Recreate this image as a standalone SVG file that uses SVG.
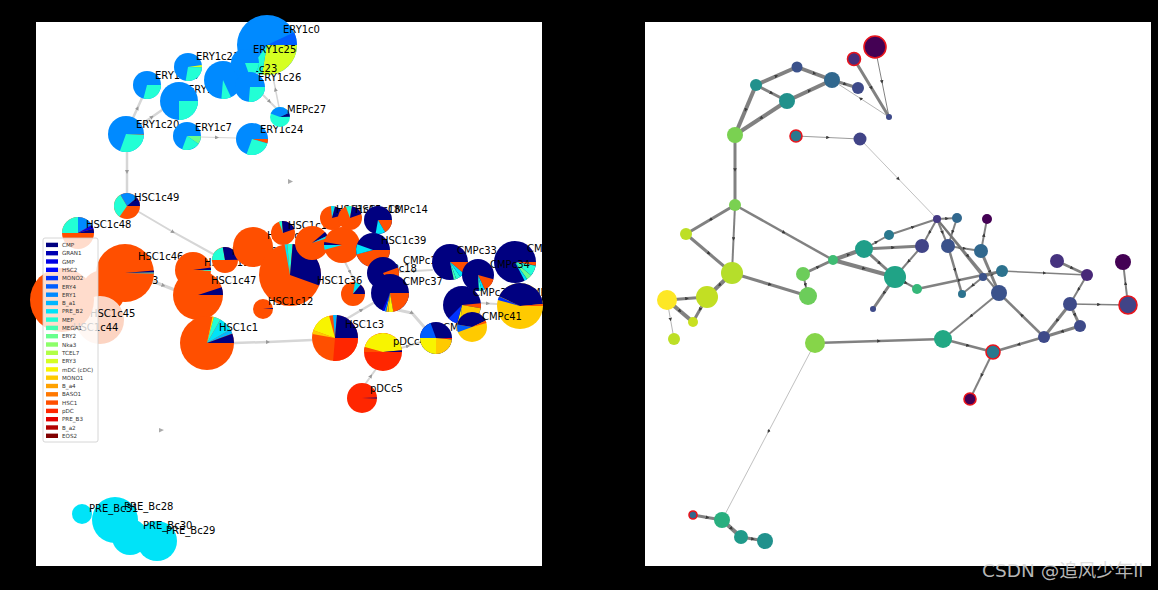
<svg xmlns="http://www.w3.org/2000/svg" width="1158" height="590" viewBox="0 0 1158 590">
<style>
.lb{font-family:"DejaVu Sans",sans-serif;font-size:10px;fill:#000}
.lg{font-family:"DejaVu Sans",sans-serif;font-size:5.6px;fill:#333}
.w{fill:none}
.e{stroke:#d6d6d6;fill:none;stroke-linecap:round;marker-mid:url(#al)}
.r{stroke:#737373;fill:none;stroke-opacity:.9;marker-mid:url(#ar)}
.ro{stroke:#e8141c;stroke-width:1.6}
</style>
<defs>
<marker id="ar" viewBox="0 0 6 6" refX="3" refY="3" markerWidth="3.6" markerHeight="3.6" markerUnits="userSpaceOnUse" orient="auto"><path d="M0,0 L6,3 L0,6 z" fill="#3a3a3a"/></marker>
<marker id="al" viewBox="0 0 6 6" refX="3" refY="3" markerWidth="4" markerHeight="4" markerUnits="userSpaceOnUse" orient="auto"><path d="M0,0 L6,3 L0,6 z" fill="#999"/></marker>
</defs>
<rect width="1158" height="590" fill="#000"/>
<rect x="36" y="22" width="506" height="544" fill="#fff"/>
<rect x="645" y="22" width="506" height="544" fill="#fff"/>

<g id="left-edges">
<path class="e" stroke-width="2.5" d="M127,152 L127,172 L127,193"/>
<path class="e" stroke-width="2.5" d="M133,118 L137.5,108 L142,98"/>
<path class="e" stroke-width="2.5" d="M142,124 L152,117 L162,110"/>
<path class="e" stroke-width="2" d="M263,95 L269.5,101.5 L276,108"/>
<path class="e" stroke-width="1.5" d="M279,107 L275.5,89.5 L272,72"/>
<path class="e" stroke-width="1" d="M201,137 L217,137.5 L236,138"/>
<path class="e" stroke-width="2" d="M139,212 L173,232 L213,254"/>
<path class="e" stroke-width="3" d="M152,281 L163.5,285.5 L175,290"/>
<path class="e" stroke-width="2.5" d="M234,343 L268,342 L312,340"/>
<path class="e" stroke-width="2.5" d="M348,318 L361.5,310 L375,302"/>
<path class="e" stroke-width="3" d="M398,310 L412,313 L425,328"/>
<path class="e" stroke-width="2" d="M401,348 L408,346 L421,342"/>
<path class="e" stroke-width="2" d="M366,383 L371,376 L376,369"/>
<path class="e" stroke-width="2" d="M399,272 L415,271 L432,270"/>
<path class="e" stroke-width="2" d="M480,303 L488,303.5 L497,304"/>
<path class="e" stroke-width="2" d="M345,262 L350,272 L355,282"/>
<path d="M288,179 L293,181.5 L288,184 z" fill="#aaa"/>
<path d="M159,428 L164,430 L159,432.5 z" fill="#aaa"/>
</g>

<g id="n-ERY1c20"><g transform="translate(126,134)"><circle r="18" fill="#008aff"/><circle class="w" r="9" stroke-width="18" stroke="#22ffd5" pathLength="360" stroke-dasharray="108 360" transform="rotate(2)"/><circle class="w" r="9" stroke-width="18" stroke="#ff4f00" pathLength="360" stroke-dasharray="2 360"/></g><text class="lb" x="136" y="128">ERY1c20</text></g>
<g id="n-ERY1c7"><g transform="translate(187,136)"><circle r="14" fill="#008aff"/><circle class="w" r="7" stroke-width="14" stroke="#69ff8d" pathLength="360" stroke-dasharray="35 360"/><circle class="w" r="7" stroke-width="14" stroke="#22ffd5" pathLength="360" stroke-dasharray="75 360" transform="rotate(35)"/></g><text class="lb" x="195" y="131">ERY1c7</text></g>
<g id="n-ERY1c24"><g transform="translate(252,139)"><circle r="16" fill="#008aff"/><circle class="w" r="8" stroke-width="16" stroke="#ff4f00" pathLength="360" stroke-dasharray="16 360"/><circle class="w" r="8" stroke-width="16" stroke="#22ffd5" pathLength="360" stroke-dasharray="94 360" transform="rotate(16)"/></g><text class="lb" x="260" y="133">ERY1c24</text></g>
<g id="n-MEPc27"><g transform="translate(280,117)"><circle r="10" fill="#22ffd5"/><circle class="w" r="5" stroke-width="10" stroke="#008aff" pathLength="360" stroke-dasharray="135 360" transform="rotate(200)"/><circle class="w" r="5" stroke-width="10" stroke="#000080" pathLength="360" stroke-dasharray="25 360" transform="rotate(335)"/></g><text class="lb" x="287" y="113">MEPc27</text></g>
<g id="n-ERY1c13"><g transform="translate(147,85)"><circle r="14" fill="#008aff"/><circle class="w" r="7" stroke-width="14" stroke="#22ffd5" pathLength="360" stroke-dasharray="105 360"/></g><text class="lb" x="155" y="79">ERY1c13</text></g>
<g id="n-ERY1c10"><text class="lb" x="188" y="93">ERY1c10</text><g transform="translate(179,101)"><circle r="19" fill="#008aff"/><circle class="w" r="9.5" stroke-width="19" stroke="#22ffd5" pathLength="360" stroke-dasharray="90 360"/></g></g>
<g id="n-ERY1c21"><g transform="translate(188,67)"><circle r="14" fill="#008aff"/><circle class="w" r="7" stroke-width="14" stroke="#d5ff22" pathLength="360" stroke-dasharray="10 360" transform="rotate(-8)"/><circle class="w" r="7" stroke-width="14" stroke="#22ffd5" pathLength="360" stroke-dasharray="98 360" transform="rotate(2)"/></g><text class="lb" x="196" y="60">ERY1c21</text></g>
<g id="n-ERY1c0"><g transform="translate(267,45)"><circle r="30" fill="#008aff"/><circle class="w" r="15" stroke-width="30" stroke="#005eff" pathLength="360" stroke-dasharray="25 360" transform="rotate(-25)"/><circle class="w" r="15" stroke-width="30" stroke="#d5ff22" pathLength="360" stroke-dasharray="100 360"/><circle class="w" r="15" stroke-width="30" stroke="#22ffd5" pathLength="360" stroke-dasharray="25 360" transform="rotate(100)"/></g><text class="lb" x="283" y="33">ERY1c0</text></g>
<g id="n-ERY1c23"><g transform="translate(223,80)"><circle r="19" fill="#008aff"/><circle class="w" r="9.5" stroke-width="19" stroke="#22ffd5" pathLength="360" stroke-dasharray="30 360" transform="rotate(65)"/></g><text class="lb" x="234" y="72">ERY1c23</text></g>
<g id="n-ERY1c25"><g transform="translate(245,63)"><circle r="14" fill="#008aff"/><circle class="w" r="7" stroke-width="14" stroke="#22ffd5" pathLength="360" stroke-dasharray="70 360"/></g><text class="lb" x="253" y="53">ERY1c25</text></g>
<g id="n-ERY1c26"><g transform="translate(250,87)"><circle r="15" fill="#008aff"/><circle class="w" r="7.5" stroke-width="15" stroke="#22ffd5" pathLength="360" stroke-dasharray="95 360"/></g><text class="lb" x="258" y="81">ERY1c26</text></g>

<g id="n-HSC1c49"><g transform="translate(127,206)"><circle r="13" fill="#ff4f00"/><circle class="w" r="6.5" stroke-width="13" stroke="#22ffd5" pathLength="360" stroke-dasharray="115 360" transform="rotate(125)"/><circle class="w" r="6.5" stroke-width="13" stroke="#008aff" pathLength="360" stroke-dasharray="80 360" transform="rotate(240)"/><circle class="w" r="6.5" stroke-width="13" stroke="#000080" pathLength="360" stroke-dasharray="40 360" transform="rotate(320)"/></g><text class="lb" x="134" y="201">HSC1c49</text></g>
<g id="n-HSC1c48"><g transform="translate(78,233)"><circle r="16" fill="#ff4f00"/><circle class="w" r="8" stroke-width="16" stroke="#22ffd5" pathLength="360" stroke-dasharray="90 360" transform="rotate(180)"/><circle class="w" r="8" stroke-width="16" stroke="#008aff" pathLength="360" stroke-dasharray="60 360" transform="rotate(270)"/><circle class="w" r="8" stroke-width="16" stroke="#0000e4" pathLength="360" stroke-dasharray="15 360" transform="rotate(330)"/><circle class="w" r="8" stroke-width="16" stroke="#000080" pathLength="360" stroke-dasharray="15 360" transform="rotate(345)"/></g><text class="lb" x="86" y="228">HSC1c48</text></g>
<g id="n-HSC1c43"><circle cx="103" cy="292" r="22" fill="#ff4f00"/><text class="lb" x="113" y="284">HSC1c43</text></g>
<g id="n-HSC1c45"><circle cx="100" cy="320" r="24" fill="#fcd4c2"/><text class="lb" x="90" y="317">HSC1c45</text></g>
<g id="n-HSC1c44"><circle cx="62" cy="300" r="32" fill="#ff4f00"/><text class="lb" x="73" y="331">HSC1c44</text></g>
<g id="n-HSC1c46"><g transform="translate(125,273)"><circle r="29" fill="#ff4f00"/><circle class="w" r="14.5" stroke-width="29" stroke="#000080" pathLength="360" stroke-dasharray="4 360" transform="rotate(-5)"/><circle class="w" r="14.5" stroke-width="29" stroke="#00e3f8" pathLength="360" stroke-dasharray="2 360" transform="rotate(-1)"/></g><text class="lb" x="138" y="260">HSC1c46</text></g>
<g id="n-HSC1c11"><g transform="translate(193,270)"><circle r="18" fill="#ff4f00"/><circle class="w" r="9" stroke-width="18" stroke="#000080" pathLength="360" stroke-dasharray="8 360" transform="rotate(-8)"/><circle class="w" r="9" stroke-width="18" stroke="#22ffd5" pathLength="360" stroke-dasharray="3 360"/></g><text class="lb" x="204" y="266">HSC1c11</text></g>
<g id="n-HSC1c50"><g transform="translate(225,260)"><circle r="13" fill="#ff4f00"/><circle class="w" r="6.5" stroke-width="13" stroke="#22ffd5" pathLength="360" stroke-dasharray="80 360" transform="rotate(180)"/><circle class="w" r="6.5" stroke-width="13" stroke="#000080" pathLength="360" stroke-dasharray="100 360" transform="rotate(260)"/></g><text class="lb" x="232" y="255">HSC1c50</text></g>
<g id="n-HSC1c47"><g transform="translate(198,295)"><circle r="25" fill="#ff4f00"/><circle class="w" r="12.5" stroke-width="25" stroke="#000080" pathLength="360" stroke-dasharray="18 360" transform="rotate(-18)"/></g><text class="lb" x="211" y="284">HSC1c47</text></g>
<g id="n-HSC1c1"><g transform="translate(207,343)"><circle r="27" fill="#ff4f00"/><circle class="w" r="13.5" stroke-width="27" stroke="#f8f400" pathLength="360" stroke-dasharray="3 360" transform="rotate(-78)"/><circle class="w" r="13.5" stroke-width="27" stroke="#22ffd5" pathLength="360" stroke-dasharray="15 360" transform="rotate(-75)"/><circle class="w" r="13.5" stroke-width="27" stroke="#00e3f8" pathLength="360" stroke-dasharray="30 360" transform="rotate(-60)"/><circle class="w" r="13.5" stroke-width="27" stroke="#00b7ff" pathLength="360" stroke-dasharray="10 360" transform="rotate(-30)"/><circle class="w" r="13.5" stroke-width="27" stroke="#000080" pathLength="360" stroke-dasharray="20 360" transform="rotate(-20)"/></g><text class="lb" x="219" y="331">HSC1c1</text></g>
<g id="n-HSC1c17"><circle cx="253" cy="247" r="20" fill="#ff4f00"/><text class="lb" x="267" y="239">HSC1c17</text></g>
<g id="n-HSC1c19"><g transform="translate(283,233)"><circle r="12" fill="#ff4f00"/><circle class="w" r="6" stroke-width="12" stroke="#22ffd5" pathLength="360" stroke-dasharray="15 360" transform="rotate(-110)"/><circle class="w" r="6" stroke-width="12" stroke="#000080" pathLength="360" stroke-dasharray="75 360" transform="rotate(-95)"/></g><text class="lb" x="288" y="229">HSC1c19</text></g>
<g id="n-HSC1c8"><g transform="translate(290,275)"><circle r="31" fill="#ff4f00"/><circle class="w" r="15.5" stroke-width="31" stroke="#00e3f8" pathLength="360" stroke-dasharray="5 360" transform="rotate(-100)"/><circle class="w" r="15.5" stroke-width="31" stroke="#22ffd5" pathLength="360" stroke-dasharray="10 360" transform="rotate(-95)"/><circle class="w" r="15.5" stroke-width="31" stroke="#000080" pathLength="360" stroke-dasharray="105 360" transform="rotate(-85)"/></g></g>
<g id="n-HSC1c12"><g transform="translate(263,309)"><circle r="10" fill="#ff4f00"/><circle class="w" r="5" stroke-width="10" stroke="#000080" pathLength="360" stroke-dasharray="6 360" transform="rotate(-6)"/></g><text class="lb" x="268" y="305">HSC1c12</text></g>
<g id="n-HSC1c20"><g transform="translate(312,243)"><circle r="17" fill="#ff4f00"/><circle class="w" r="8.5" stroke-width="17" stroke="#000080" pathLength="360" stroke-dasharray="15 360" transform="rotate(-40)"/><circle class="w" r="8.5" stroke-width="17" stroke="#00e3f8" pathLength="360" stroke-dasharray="7 360" transform="rotate(-25)"/></g></g>
<g id="n-HSC1c22"><g transform="translate(342,245)"><circle r="18" fill="#ff4f00"/><circle class="w" r="9" stroke-width="18" stroke="#00e3f8" pathLength="360" stroke-dasharray="15 360" transform="rotate(165)"/><circle class="w" r="9" stroke-width="18" stroke="#000080" pathLength="360" stroke-dasharray="10 360" transform="rotate(180)"/></g></g>
<g id="n-HSC1c15"><g transform="translate(332,218)"><circle r="12" fill="#ff4f00"/><circle class="w" r="6" stroke-width="12" stroke="#00e3f8" pathLength="360" stroke-dasharray="20 360" transform="rotate(-95)"/><circle class="w" r="6" stroke-width="12" stroke="#000080" pathLength="360" stroke-dasharray="60 360" transform="rotate(-75)"/></g><text class="lb" x="336" y="213">HSC1c15</text></g>
<g id="n-HSC1c18"><g transform="translate(350,218)"><circle r="12" fill="#ff4f00"/><circle class="w" r="6" stroke-width="12" stroke="#22ffd5" pathLength="360" stroke-dasharray="30 360" transform="rotate(-110)"/><circle class="w" r="6" stroke-width="12" stroke="#000080" pathLength="360" stroke-dasharray="60 360" transform="rotate(-80)"/></g><text class="lb" x="355" y="213">HSC1c18</text></g>
<g id="n-CMPc14"><g transform="translate(378,220)"><circle r="14" fill="#000080"/><circle class="w" r="7" stroke-width="14" stroke="#ff4f00" pathLength="360" stroke-dasharray="60 360"/><circle class="w" r="7" stroke-width="14" stroke="#00e3f8" pathLength="360" stroke-dasharray="40 360" transform="rotate(60)"/></g><text class="lb" x="388" y="213">CMPc14</text></g>
<g id="n-HSC1c39"><g transform="translate(373,250)"><circle r="17" fill="#000080"/><circle class="w" r="8.5" stroke-width="17" stroke="#ff4f00" pathLength="360" stroke-dasharray="165 360"/><circle class="w" r="8.5" stroke-width="17" stroke="#00e3f8" pathLength="360" stroke-dasharray="35 360" transform="rotate(165)"/></g><text class="lb" x="381" y="244">HSC1c39</text></g>
<g id="n-CMPc18"><text class="lb" x="403" y="264">CMPc15</text><text class="lb" x="377" y="272">CMPc18</text><g transform="translate(383,273)"><circle r="16" fill="#000080"/><circle class="w" r="8" stroke-width="16" stroke="#ff4f00" pathLength="360" stroke-dasharray="80 360" transform="rotate(-20)"/></g></g>
<g id="n-HSC1c36"><g transform="translate(353,294)"><circle r="12" fill="#ff4f00"/><circle class="w" r="6" stroke-width="12" stroke="#00e3f8" pathLength="360" stroke-dasharray="30 360" transform="rotate(-80)"/><circle class="w" r="6" stroke-width="12" stroke="#000080" pathLength="360" stroke-dasharray="50 360" transform="rotate(-50)"/></g><text class="lb" x="317" y="284">HSC1c36</text></g>
<g id="n-CMPc37"><g transform="translate(390,293)"><circle r="19" fill="#000080"/><circle class="w" r="9.5" stroke-width="19" stroke="#ff4f00" pathLength="360" stroke-dasharray="80 360"/><circle class="w" r="9.5" stroke-width="19" stroke="#f8f400" pathLength="360" stroke-dasharray="15 360" transform="rotate(80)"/><circle class="w" r="9.5" stroke-width="19" stroke="#ffca00" pathLength="360" stroke-dasharray="7 360" transform="rotate(95)"/><circle class="w" r="9.5" stroke-width="19" stroke="#008aff" pathLength="360" stroke-dasharray="6 360" transform="rotate(102)"/><circle class="w" r="9.5" stroke-width="19" stroke="#0000e4" pathLength="360" stroke-dasharray="7 360" transform="rotate(108)"/></g><text class="lb" x="403" y="285">CMPc37</text></g>
<g id="n-HSC1c3"><g transform="translate(335,338)"><circle r="23" fill="#ff4f00"/><circle class="w" r="11.5" stroke-width="23" stroke="#00b7ff" pathLength="360" stroke-dasharray="10 360" transform="rotate(-95)"/><circle class="w" r="11.5" stroke-width="23" stroke="#000080" pathLength="360" stroke-dasharray="85 360" transform="rotate(-85)"/><circle class="w" r="11.5" stroke-width="23" stroke="#ff2600" pathLength="360" stroke-dasharray="95 360"/><circle class="w" r="11.5" stroke-width="23" stroke="#ffca00" pathLength="360" stroke-dasharray="10 360" transform="rotate(190)"/><circle class="w" r="11.5" stroke-width="23" stroke="#f8f400" pathLength="360" stroke-dasharray="55 360" transform="rotate(200)"/></g><text class="lb" x="345" y="328">HSC1c3</text></g>
<g id="n-pDCc4"><g transform="translate(383,352)"><circle r="19" fill="#ff2600"/><circle class="w" r="9.5" stroke-width="19" stroke="#ff4f00" pathLength="360" stroke-dasharray="15 360" transform="rotate(180)"/><circle class="w" r="9.5" stroke-width="19" stroke="#f8f400" pathLength="360" stroke-dasharray="160 360" transform="rotate(195)"/><circle class="w" r="9.5" stroke-width="19" stroke="#000080" pathLength="360" stroke-dasharray="5 360" transform="rotate(355)"/></g><text class="lb" x="393" y="345">pDCc4</text></g>
<g id="n-pDCc5"><g transform="translate(362,398)"><circle r="15" fill="#ff2600"/><circle class="w" r="7.5" stroke-width="15" stroke="#000080" pathLength="360" stroke-dasharray="4 360" transform="rotate(-2)"/></g><text class="lb" x="370" y="392">pDCc5</text></g>
<g id="n-CMPc38"><text class="lb" x="443" y="331">CMPc38</text><g transform="translate(436,338)"><circle r="16" fill="#000080"/><circle class="w" r="8" stroke-width="16" stroke="#ff2600" pathLength="360" stroke-dasharray="5 360"/><circle class="w" r="8" stroke-width="16" stroke="#ffca00" pathLength="360" stroke-dasharray="85 360" transform="rotate(5)"/><circle class="w" r="8" stroke-width="16" stroke="#f8f400" pathLength="360" stroke-dasharray="90 360" transform="rotate(90)"/><circle class="w" r="8" stroke-width="16" stroke="#005eff" pathLength="360" stroke-dasharray="70 360" transform="rotate(180)"/></g></g>
<g id="n-CMPc33"><g transform="translate(450,262)"><circle r="18" fill="#000080"/><circle class="w" r="9" stroke-width="18" stroke="#ff4f00" pathLength="360" stroke-dasharray="40 360"/><circle class="w" r="9" stroke-width="18" stroke="#00e3f8" pathLength="360" stroke-dasharray="15 360" transform="rotate(40)"/><circle class="w" r="9" stroke-width="18" stroke="#22ffd5" pathLength="360" stroke-dasharray="15 360" transform="rotate(55)"/><circle class="w" r="9" stroke-width="18" stroke="#46ffb1" pathLength="360" stroke-dasharray="8 360" transform="rotate(70)"/></g><text class="lb" x="457" y="254">CMPc33</text></g>
<g id="n-CMPc35"><g transform="translate(515,262)"><circle r="21" fill="#000080"/><circle class="w" r="10.5" stroke-width="21" stroke="#ff4f00" pathLength="360" stroke-dasharray="10 360"/><circle class="w" r="10.5" stroke-width="21" stroke="#22ffd5" pathLength="360" stroke-dasharray="30 360" transform="rotate(10)"/><circle class="w" r="10.5" stroke-width="21" stroke="#69ff8d" pathLength="360" stroke-dasharray="15 360" transform="rotate(40)"/><circle class="w" r="10.5" stroke-width="21" stroke="#00e3f8" pathLength="360" stroke-dasharray="8 360" transform="rotate(55)"/></g><text class="lb" x="527" y="252">CMPc35</text></g>
<g id="n-CMPc34"><g transform="translate(478,275)"><circle r="16" fill="#000080"/><circle class="w" r="8" stroke-width="16" stroke="#ff4f00" pathLength="360" stroke-dasharray="50 360" transform="rotate(15)"/><circle class="w" r="8" stroke-width="16" stroke="#00e3f8" pathLength="360" stroke-dasharray="12 360" transform="rotate(65)"/><circle class="w" r="8" stroke-width="16" stroke="#22ffd5" pathLength="360" stroke-dasharray="10 360" transform="rotate(77)"/></g><text class="lb" x="490" y="268">CMPc34</text></g>
<g id="n-CMPc36"><g transform="translate(462,305)"><circle r="19" fill="#000080"/><circle class="w" r="9.5" stroke-width="19" stroke="#ff4f00" pathLength="360" stroke-dasharray="15 360" transform="rotate(-5)"/><circle class="w" r="9.5" stroke-width="19" stroke="#ffca00" pathLength="360" stroke-dasharray="85 360" transform="rotate(10)"/><circle class="w" r="9.5" stroke-width="19" stroke="#f8f400" pathLength="360" stroke-dasharray="10 360" transform="rotate(95)"/><circle class="w" r="9.5" stroke-width="19" stroke="#0032ff" pathLength="360" stroke-dasharray="30 360" transform="rotate(105)"/></g><text class="lb" x="473" y="296">CMPc36</text></g>
<g id="n-CMPc40"><text class="lb" x="525" y="296">CMPc40</text><g transform="translate(520,306)"><circle r="23" fill="#ffca00"/><circle class="w" r="11.5" stroke-width="23" stroke="#0032ff" pathLength="360" stroke-dasharray="10 360" transform="rotate(195)"/><circle class="w" r="11.5" stroke-width="23" stroke="#000080" pathLength="360" stroke-dasharray="150 360" transform="rotate(205)"/><circle class="w" r="11.5" stroke-width="23" stroke="#ff4f00" pathLength="360" stroke-dasharray="5 360" transform="rotate(355)"/></g></g>
<g id="n-CMPc41"><g transform="translate(472,327)"><circle r="15" fill="#ffca00"/><circle class="w" r="7.5" stroke-width="15" stroke="#005eff" pathLength="360" stroke-dasharray="30 360" transform="rotate(160)"/><circle class="w" r="7.5" stroke-width="15" stroke="#000080" pathLength="360" stroke-dasharray="145 360" transform="rotate(190)"/><circle class="w" r="7.5" stroke-width="15" stroke="#ff4f00" pathLength="360" stroke-dasharray="10 360" transform="rotate(335)"/></g><text class="lb" x="482" y="320">CMPc41</text></g>

<g id="n-PRE_Bc29"><circle cx="157" cy="541" r="20" fill="#00e3f8"/><text class="lb" x="166" y="534">PRE_Bc29</text></g>
<g id="n-PRE_Bc30"><circle cx="130" cy="537" r="18" fill="#00e3f8"/><text class="lb" x="143" y="529">PRE_Bc30</text></g>
<g id="n-PRE_Bc28"><circle cx="115" cy="520" r="23" fill="#00e3f8"/><text class="lb" x="124" y="510">PRE_Bc28</text></g>
<g id="n-PRE_Bc31"><circle cx="82" cy="514" r="10" fill="#00e3f8"/><text class="lb" x="89" y="512">PRE_Bc31</text></g>

<g id="legend">
<rect x="43" y="238" width="55" height="204" rx="2" fill="#fff" fill-opacity="0.8" stroke="#cccccc" stroke-width="0.8"/>
<rect x="46" y="242.7" width="12" height="4.4" fill="#000080"/><text class="lg" x="62" y="247">CMP</text>
<rect x="46" y="251" width="12" height="4.4" fill="#0000b2"/><text class="lg" x="62" y="255.3">GRAN1</text>
<rect x="46" y="259.3" width="12" height="4.4" fill="#0000e4"/><text class="lg" x="62" y="263.6">GMP</text>
<rect x="46" y="267.6" width="12" height="4.4" fill="#0005ff"/><text class="lg" x="62" y="271.9">HSC2</text>
<rect x="46" y="275.9" width="12" height="4.4" fill="#0032ff"/><text class="lg" x="62" y="280.2">MONO2</text>
<rect x="46" y="284.2" width="12" height="4.4" fill="#005eff"/><text class="lg" x="62" y="288.5">ERY4</text>
<rect x="46" y="292.5" width="12" height="4.4" fill="#008aff"/><text class="lg" x="62" y="296.8">ERY1</text>
<rect x="46" y="300.8" width="12" height="4.4" fill="#00b7ff"/><text class="lg" x="62" y="305.1">B_a1</text>
<rect x="46" y="309.1" width="12" height="4.4" fill="#00e3f8"/><text class="lg" x="62" y="313.4">PRE_B2</text>
<rect x="46" y="317.4" width="12" height="4.4" fill="#22ffd5"/><text class="lg" x="62" y="321.7">MEP</text>
<rect x="46" y="325.7" width="12" height="4.4" fill="#46ffb1"/><text class="lg" x="62" y="330">MEGA1</text>
<rect x="46" y="334" width="12" height="4.4" fill="#69ff8d"/><text class="lg" x="62" y="338.3">ERY2</text>
<rect x="46" y="342.3" width="12" height="4.4" fill="#8dff69"/><text class="lg" x="62" y="346.6">Nka3</text>
<rect x="46" y="350.6" width="12" height="4.4" fill="#b1ff46"/><text class="lg" x="62" y="354.9">TCEL7</text>
<rect x="46" y="358.9" width="12" height="4.4" fill="#d5ff22"/><text class="lg" x="62" y="363.2">ERY3</text>
<rect x="46" y="367.2" width="12" height="4.4" fill="#f8f400"/><text class="lg" x="62" y="371.5">mDC (cDC)</text>
<rect x="46" y="375.5" width="12" height="4.4" fill="#ffca00"/><text class="lg" x="62" y="379.8">MONO1</text>
<rect x="46" y="383.8" width="12" height="4.4" fill="#ffa100"/><text class="lg" x="62" y="388.1">B_a4</text>
<rect x="46" y="392.1" width="12" height="4.4" fill="#ff7800"/><text class="lg" x="62" y="396.4">BASO1</text>
<rect x="46" y="400.4" width="12" height="4.4" fill="#ff4f00"/><text class="lg" x="62" y="404.7">HSC1</text>
<rect x="46" y="408.7" width="12" height="4.4" fill="#ff2600"/><text class="lg" x="62" y="413">pDC</text>
<rect x="46" y="417" width="12" height="4.4" fill="#e40000"/><text class="lg" x="62" y="421.3">PRE_B3</text>
<rect x="46" y="425.3" width="12" height="4.4" fill="#b20000"/><text class="lg" x="62" y="429.6">B_a2</text>
<rect x="46" y="433.6" width="12" height="4.4" fill="#800000"/><text class="lg" x="62" y="437.9">EOS2</text>
</g>

<g id="right-edges">
<path class="r" stroke-width="4" d="M756,85 L776.5,76 L797,67"/>
<path class="r" stroke-width="4" d="M797,67 L814.5,73.5 L832,80"/>
<path class="r" stroke-width="3" d="M832,80 L845,84 L858,88"/>
<path class="r" stroke-width="3" d="M756,85 L771.5,93 L787,101"/>
<path class="r" stroke-width="4" d="M787,101 L809.5,90.5 L832,80"/>
<path class="r" stroke-width="4" d="M756,85 L745.5,110 L735,135"/>
<path class="r" stroke-width="4" d="M787,101 L761,118 L735,135"/>
<path class="r" stroke-width="3" d="M735,135 L735,170 L735,205"/>
<path class="r" stroke-width="3" d="M854,59 L871.5,88 L889,117"/>
<path class="r" stroke-width="1" d="M875,47 L882,82 L889,117"/>
<path class="r" stroke-width="0.6" d="M889,117 L860.5,98.5 L832,80"/>
<path class="r" stroke-width="0.8" d="M796,136 L828,137.5 L860,139"/>
<path class="r" stroke-width="0.5" d="M860,139 L898.5,179 L937,219"/>
<path class="r" stroke-width="3" d="M735,205 L710.5,219.5 L686,234"/>
<path class="r" stroke-width="2" d="M735,205 L733.5,239 L732,273"/>
<path class="r" stroke-width="2.5" d="M735,205 L784,232.5 L833,260"/>
<path class="r" stroke-width="3" d="M686,234 L709,253.5 L732,273"/>
<path class="r" stroke-width="4" d="M732,273 L719.5,285 L707,297"/>
<path class="r" stroke-width="3" d="M732,273 L770,284.5 L808,296"/>
<path class="r" stroke-width="3" d="M667,300 L687,298.5 L707,297"/>
<path class="r" stroke-width="4" d="M667,300 L680,311 L693,322"/>
<path class="r" stroke-width="3" d="M707,297 L700,309.5 L693,322"/>
<path class="r" stroke-width="0.6" d="M667,300 L670.5,319.5 L674,339"/>
<path class="r" stroke-width="3" d="M803,274 L818,267 L833,260"/>
<path class="r" stroke-width="2" d="M803,274 L805.5,285 L808,296"/>
<path class="r" stroke-width="4" d="M833,260 L848.5,254.5 L864,249"/>
<path class="r" stroke-width="4" d="M833,260 L864,268.5 L895,277"/>
<path class="r" stroke-width="3" d="M864,249 L879.5,263 L895,277"/>
<path class="r" stroke-width="2" d="M864,249 L876.5,242 L889,235"/>
<path class="r" stroke-width="3" d="M864,249 L893,247.5 L922,246"/>
<path class="r" stroke-width="3" stroke="#333" d="M895,277 L884,293 L873,309"/>
<path class="r" stroke-width="2" d="M889,235 L913,227 L937,219"/>
<path class="r" stroke-width="2" d="M937,219 L947,218.5 L957,218"/>
<path class="r" stroke-width="2" d="M937,219 L929.5,232.5 L922,246"/>
<path class="r" stroke-width="2" d="M937,219 L942.5,232.5 L948,246"/>
<path class="r" stroke-width="2" d="M957,218 L952.5,232 L948,246"/>
<path class="r" stroke-width="2" d="M937,219 L960,248 L983,277"/>
<path class="r" stroke-width="2" d="M937,219 L968,256 L999,293"/>
<path class="r" stroke-width="2" d="M922,246 L908.5,261.5 L895,277"/>
<path class="r" stroke-width="2" d="M948,246 L964.5,248.5 L981,251"/>
<path class="r" stroke-width="2" d="M981,251 L984,235 L987,219"/>
<path class="r" stroke-width="3" d="M981,251 L990,272 L999,293"/>
<path class="r" stroke-width="2.5" d="M948,246 L955,270 L962,294"/>
<path class="r" stroke-width="2" d="M983,277 L992.5,274 L1002,271"/>
<path class="r" stroke-width="2" d="M983,277 L972.5,285.5 L962,294"/>
<path class="r" stroke-width="2.5" d="M917,289 L959.5,280 L1002,271"/>
<path class="r" stroke-width="2" d="M895,277 L906,283 L917,289"/>
<path class="r" stroke-width="1.5" d="M1002,271 L1044.5,273 L1087,275"/>
<path class="r" stroke-width="2.5" d="M1057,261 L1072,268 L1087,275"/>
<path class="r" stroke-width="2" d="M1087,275 L1078.5,289.5 L1070,304"/>
<path class="r" stroke-width="1.5" d="M1070,304 L1099,304.5 L1128,305"/>
<path class="r" stroke-width="2" d="M1128,305 L1125.5,283.5 L1123,262"/>
<path class="r" stroke-width="3" d="M1070,304 L1075,315 L1080,326"/>
<path class="r" stroke-width="3" d="M1070,304 L1057,320.5 L1044,337"/>
<path class="r" stroke-width="3" d="M1080,326 L1062,331.5 L1044,337"/>
<path class="r" stroke-width="2.5" d="M1044,337 L1018.5,344.5 L993,352"/>
<path class="r" stroke-width="2.5" d="M1044,337 L1021.5,315 L999,293"/>
<path class="r" stroke-width="2" d="M999,293 L971,316 L943,339"/>
<path class="r" stroke-width="2.5" d="M943,339 L968,345.5 L993,352"/>
<path class="r" stroke-width="2" d="M993,352 L981.5,375.5 L970,399"/>
<path class="r" stroke-width="2.5" d="M815,343 L879,341 L943,339"/>
<path class="r" stroke-width="0.5" d="M815,343 L768.5,431.5 L722,520"/>
<path class="r" stroke-width="3" d="M693,515 L707.5,517.5 L722,520"/>
<path class="r" stroke-width="4" d="M722,520 L731.5,528.5 L741,537"/>
<path class="r" stroke-width="3" d="M741,537 L753,539 L765,541"/>
</g>

<g id="right-nodes">
<circle id="r-A" cx="875" cy="47" r="11" fill="#440154" class="ro"/>
<circle id="r-B" cx="854" cy="59" r="6.5" fill="#472d7b" class="ro"/>
<circle id="r-C" cx="797" cy="67" r="5.5" fill="#3b528b"/>
<circle id="r-D" cx="832" cy="80" r="8" fill="#31688e"/>
<circle id="r-E" cx="858" cy="88" r="6" fill="#3e4a89"/>
<circle id="r-F" cx="756" cy="85" r="6" fill="#21918c"/>
<circle id="r-G" cx="787" cy="101" r="8" fill="#21918c"/>
<circle id="r-H" cx="735" cy="135" r="8" fill="#7ad151"/>
<circle id="r-I" cx="889" cy="117" r="3" fill="#3e4a89"/>
<circle id="r-J" cx="796" cy="136" r="6" fill="#2a788e" class="ro"/>
<circle id="r-K" cx="860" cy="139" r="6.5" fill="#414487"/>
<circle id="r-L" cx="735" cy="205" r="6" fill="#7ad151"/>
<circle id="r-M" cx="686" cy="234" r="6" fill="#bddf26"/>
<circle id="r-N" cx="732" cy="273" r="11" fill="#b5de2b"/>
<circle id="r-O" cx="667" cy="300" r="10" fill="#fde725"/>
<circle id="r-P" cx="707" cy="297" r="11" fill="#c2df23"/>
<circle id="r-Q" cx="693" cy="322" r="5" fill="#c8e020"/>
<circle id="r-R" cx="674" cy="339" r="6" fill="#bddf26"/>
<circle id="r-S" cx="803" cy="274" r="7" fill="#6ccd5a"/>
<circle id="r-T" cx="808" cy="296" r="9" fill="#6ccd5a"/>
<circle id="r-U" cx="833" cy="260" r="5" fill="#3fbc73"/>
<circle id="r-V" cx="864" cy="249" r="9" fill="#1f9e89"/>
<circle id="r-W" cx="815" cy="343" r="10" fill="#86d549"/>
<circle id="r-X" cx="889" cy="235" r="5" fill="#2a788e"/>
<circle id="r-Y" cx="895" cy="277" r="11" fill="#20a386"/>
<circle id="r-Z" cx="873" cy="309" r="3" fill="#3e4a89"/>
<circle id="r-a" cx="937" cy="219" r="4" fill="#443983"/>
<circle id="r-b" cx="957" cy="218" r="5" fill="#31688e"/>
<circle id="r-c" cx="987" cy="219" r="5" fill="#440154"/>
<circle id="r-d" cx="922" cy="246" r="7" fill="#414487"/>
<circle id="r-e" cx="948" cy="246" r="7" fill="#3b528b"/>
<circle id="r-f" cx="981" cy="251" r="7" fill="#31688e"/>
<circle id="r-g" cx="917" cy="289" r="5" fill="#35b779"/>
<circle id="r-h" cx="983" cy="277" r="4" fill="#3b528b"/>
<circle id="r-i" cx="1002" cy="271" r="6" fill="#2c728e"/>
<circle id="r-j" cx="962" cy="294" r="4" fill="#2c728e"/>
<circle id="r-k" cx="999" cy="293" r="8" fill="#3b528b"/>
<circle id="r-l" cx="1057" cy="261" r="7" fill="#46337f"/>
<circle id="r-m" cx="1087" cy="275" r="6" fill="#482878"/>
<circle id="r-n" cx="1123" cy="262" r="8" fill="#440154"/>
<circle id="r-o" cx="1128" cy="305" r="9" fill="#414487" class="ro"/>
<circle id="r-p" cx="1070" cy="304" r="7" fill="#3e4a89"/>
<circle id="r-q" cx="1080" cy="326" r="6" fill="#3e4a89"/>
<circle id="r-r" cx="1044" cy="337" r="6" fill="#3e4a89"/>
<circle id="r-s" cx="943" cy="339" r="9" fill="#22a884"/>
<circle id="r-t" cx="993" cy="352" r="7" fill="#2a788e" class="ro"/>
<circle id="r-u" cx="970" cy="399" r="6" fill="#440154" class="ro"/>
<circle id="r-v" cx="693" cy="515" r="4" fill="#31688e" class="ro"/>
<circle id="r-w" cx="722" cy="520" r="8" fill="#29af7f"/>
<circle id="r-x" cx="741" cy="537" r="7" fill="#1f9a8a"/>
<circle id="r-y" cx="765" cy="541" r="8" fill="#21918c"/>
</g>

<text x="982" y="577" font-family="'DejaVu Sans','Noto Sans CJK SC',sans-serif" font-size="18.5" fill="#d8d8d8" fill-opacity="0.85">CSDN @追风少年ll</text>
</svg>
